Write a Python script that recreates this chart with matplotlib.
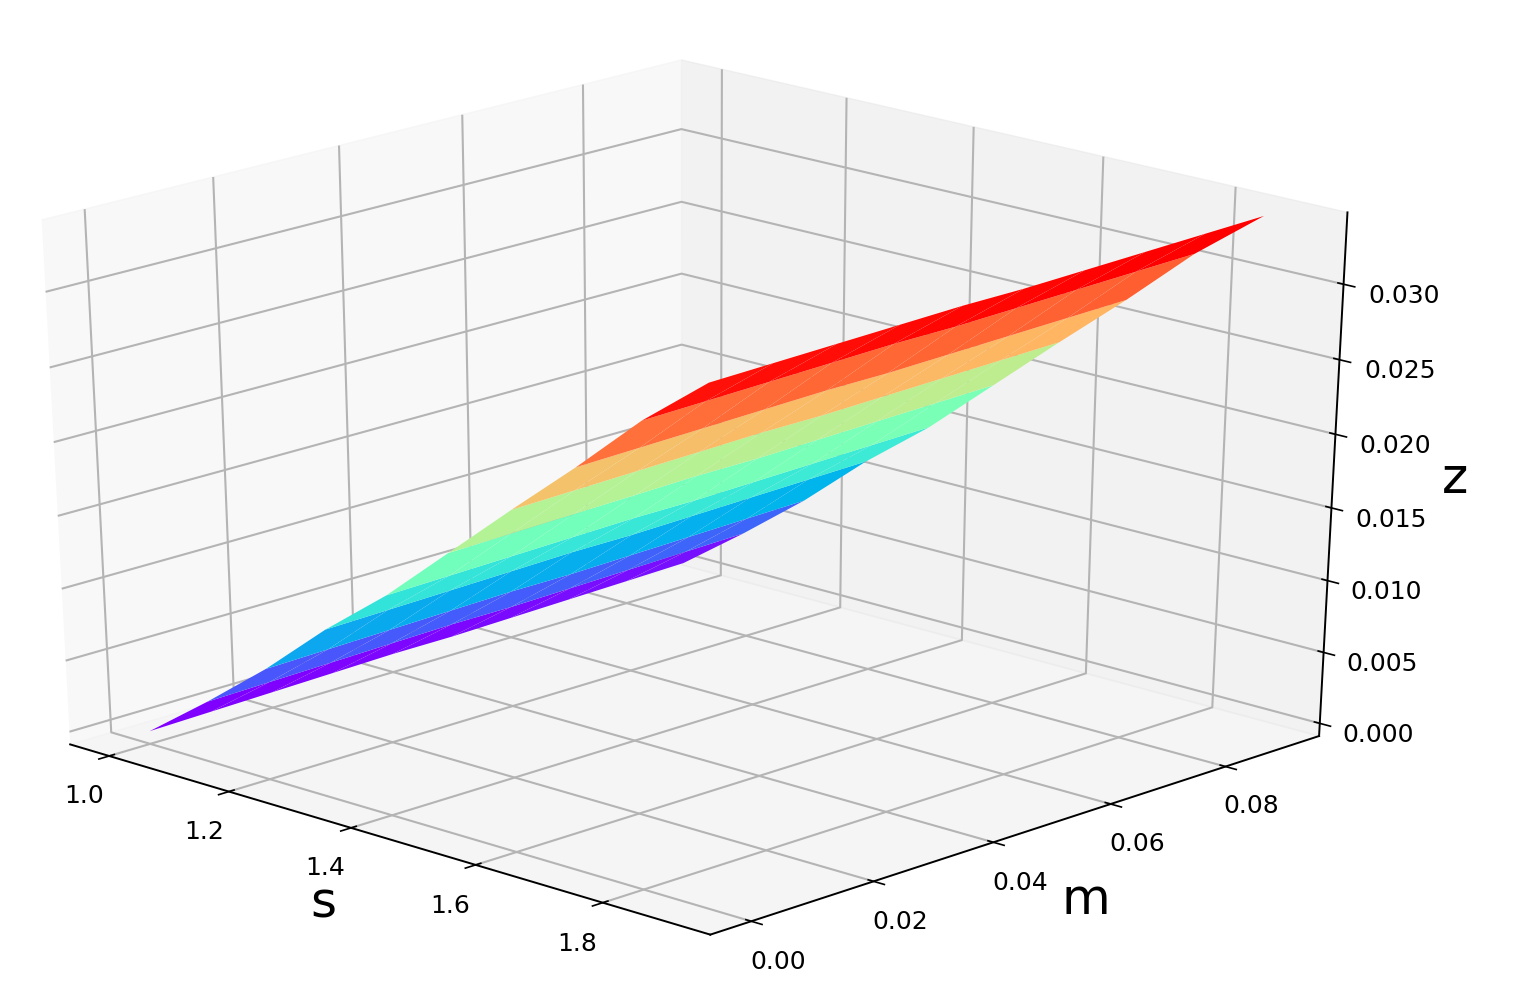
import matplotlib
matplotlib.use('Agg')
import matplotlib.pyplot as plt
import numpy as np

s_values = [1.0, 1.1, 1.2, 1.3, 1.4, 1.5, 1.6, 1.7, 1.8, 1.9]
m_values = [0.0, 0.01, 0.02, 0.03, 0.04, 0.05, 0.06, 0.07, 0.08, 0.09]
z_by_s = [0.0, 0.0033, 0.0068, 0.0107, 0.0142, 0.0182, 0.0222, 0.0261, 0.0302, 0.0337]
rise_by_m = [0.0, 0.0001, 0.0002, 0.0003, 0.0004, 0.0004, 0.0005, 0.0006, 0.0007, 0.0008]

s_ticks = [1.0, 1.2, 1.4, 1.6, 1.8]
m_ticks = [0.00, 0.02, 0.04, 0.06, 0.08]
z_ticks = [0.000, 0.005, 0.010, 0.015, 0.020, 0.025, 0.030]

plt.rcParams['grid.color'] = '#b4b4b4'
plt.rcParams['grid.linewidth'] = 1.5
plt.rcParams['axes.linewidth'] = 1.4
plt.rcParams['xtick.major.width'] = 1.2
plt.rcParams['ytick.major.width'] = 1.2

fig = plt.figure(figsize=(15.38, 9.98), dpi=100)
ax = fig.add_subplot(projection='3d')
# the picture is wider than tall, so the 3d box is not kept square
ax.apply_aspect = lambda position=None: None
ax.set_position([-0.0768, 0.039, 1.030, 0.927])
ax.set_box_aspect((4, 4, 4.5))
ax.set_proj_type('persp', focal_length=1.25)
ax.view_init(elev=28, azim=-46.3)

S, M = np.meshgrid(s_values, m_values)
Z = np.add.outer(rise_by_m, z_by_s)
ax.plot_surface(S, M, Z, rstride=1, cstride=1, cmap='rainbow', linewidth=0)

ax.set_xlim(0.934, 1.966, view_margin=0)
ax.set_ylim(-0.0066, 0.0966, view_margin=0)
ax.set_zlim(-0.0009, 0.0347, view_margin=0)
ax.set_xticks(s_ticks)
ax.set_yticks(m_ticks)
ax.set_zticks(z_ticks)
ax.tick_params(axis='both', labelsize=18, pad=11)
ax.tick_params(axis='z', pad=14)
ax.set_xlabel('s', fontsize=36, labelpad=23)
ax.set_ylabel('m', fontsize=36, labelpad=24)
ax.zaxis.set_rotate_label(False)
ax.set_zlabel('z', fontsize=36, rotation=0, labelpad=24)

fig.savefig('out.png', dpi=100)
